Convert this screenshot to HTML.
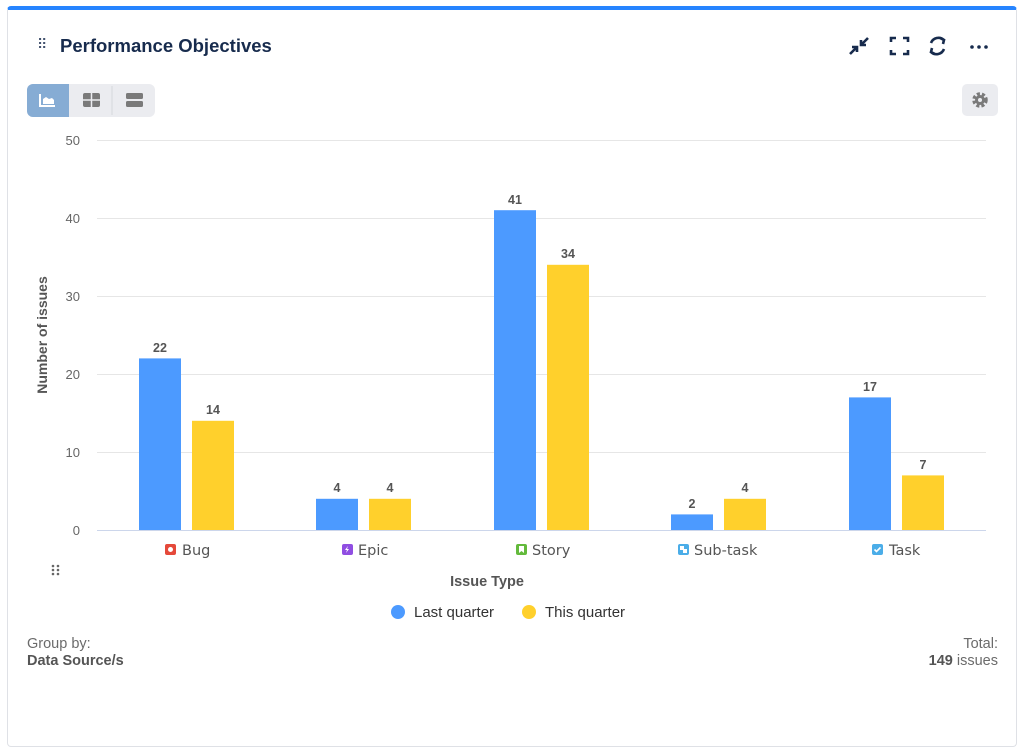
<!DOCTYPE html>
<html><head><meta charset="utf-8"><style>
body{margin:0;width:1024px;height:753px;background:#fff;font-family:"Liberation Sans",sans-serif;position:relative;overflow:hidden}
.card{position:absolute;left:7px;top:6px;width:1010px;height:741px;border:1px solid #dfe1e6;border-top:4px solid #2684ff;border-radius:4px;box-sizing:border-box}
.t{position:absolute;white-space:nowrap}
</style></head><body>
<div class="card"></div>
<div class="t" style="left:37px;top:36px;color:#42526e;font-size:14px;letter-spacing:1px">⠿</div>
<div class="t" style="left:60px;top:35px;color:#172b4d;font-family:'Liberation Sans',sans-serif;font-size:18.5px;font-weight:bold">Performance Objectives</div>
<svg style="position:absolute;left:0;top:0" width="1024" height="753">
<g stroke="#172b4d" stroke-width="2.6" fill="none">
<path d="M850 54l7-7M852 47h5v5M868 38l-7 7M861 40v5h5"/>
<path d="M891 42v-4h5M903 38h5v4M908 50v4h-5M896 54h-5v-4"/>
<path d="M944 40a8 8 0 0 0-13 3M931 52a8 8 0 0 0 13-3M940 38l4 2-1 4M935 54l-4-2 1-4"/>
</g>
<circle cx="972" cy="47" r="1.8" fill="#172b4d"/><circle cx="979" cy="47" r="1.8" fill="#172b4d"/><circle cx="986" cy="47" r="1.8" fill="#172b4d"/>
<rect x="27" y="84" width="128" height="33" rx="6" fill="#ebecf0"/>
<path d="M33 84h36v33h-36a6 6 0 0 1-6-6v-21a6 6 0 0 1 6-6z" fill="#86acd4"/>
<line x1="112" y1="86" x2="112" y2="115" stroke="#d5d7db"/>
<path d="M40 94v12h15" stroke="#fff" stroke-width="2" fill="none"/><path d="M43 104v-5l3-2 3 2 3-1 2 2v4z" fill="#fff"/>
<rect x="83" y="93" width="17" height="14" rx="2" fill="#7a7a7a"/><path d="M83 100h17M91.5 93v14" stroke="#ebecf0" stroke-width="1.5"/>
<rect x="126" y="93" width="17" height="6" rx="1.5" fill="#7a7a7a"/><rect x="126" y="101" width="17" height="6" rx="1.5" fill="#7a7a7a"/>
<rect x="962" y="84" width="36" height="32" rx="5" fill="#ebecf0"/>
<circle cx="980" cy="100" r="6" fill="none" stroke="#7a7a7a" stroke-width="3.5" stroke-dasharray="3 2"/><circle cx="980" cy="100" r="5" fill="#7a7a7a"/><circle cx="980" cy="100" r="2" fill="#ebecf0"/>
<g stroke="#e6e6e6" stroke-width="1">
<line x1="97" y1="140.5" x2="986" y2="140.5"/><line x1="97" y1="218.5" x2="986" y2="218.5"/><line x1="97" y1="296.5" x2="986" y2="296.5"/><line x1="97" y1="374.5" x2="986" y2="374.5"/><line x1="97" y1="452.5" x2="986" y2="452.5"/>
</g>
<line x1="97" y1="530.5" x2="986" y2="530.5" stroke="#ccd6eb"/>
<g font-size="13" fill="#666" text-anchor="end" font-family="Liberation Sans">
<text x="80" y="145">50</text><text x="80" y="223">40</text><text x="80" y="301">30</text><text x="80" y="379">20</text><text x="80" y="457">10</text><text x="80" y="535">0</text>
</g>
<text transform="translate(47 335) rotate(-90)" text-anchor="middle" font-size="14" font-weight="bold" fill="#555">Number of issues</text>
<g fill="#4c9aff">
<rect x="139" y="358.4" width="42" height="171.6"/><rect x="316" y="498.8" width="42" height="31.2"/><rect x="494" y="210.2" width="42" height="319.8"/><rect x="671" y="514.4" width="42" height="15.6"/><rect x="849" y="397.4" width="42" height="132.6"/>
</g>
<g fill="#ffd02c">
<rect x="192" y="420.8" width="42" height="109.2"/><rect x="369" y="498.8" width="42" height="31.2"/><rect x="547" y="264.8" width="42" height="265.2"/><rect x="724" y="498.8" width="42" height="31.2"/><rect x="902" y="475.4" width="42" height="54.6"/>
</g>
<g font-size="12.5" font-weight="bold" fill="#555" text-anchor="middle">
<text x="160" y="352">22</text><text x="213" y="414">14</text><text x="337" y="492">4</text><text x="390" y="492">4</text><text x="515" y="204">41</text><text x="568" y="258">34</text><text x="692" y="508">2</text><text x="745" y="492">4</text><text x="870" y="391">17</text><text x="923" y="469">7</text>
</g>
<rect x="165" y="544" width="11" height="11" rx="2" fill="#e5493a"/><circle cx="170.5" cy="549.5" r="2.5" fill="#fff"/>
<rect x="342" y="544" width="11" height="11" rx="2" fill="#904ee2"/><path d="M348 546l-3 4h2l-1 3 3-4h-2z" fill="#fff"/>
<rect x="516" y="544" width="11" height="11" rx="2" fill="#63ba3c"/><path d="M519 546h5v7l-2.5-2-2.5 2z" fill="#fff"/>
<rect x="678" y="544" width="11" height="11" rx="2" fill="#4bade8"/><rect x="680" y="546" width="4" height="4" fill="#fff"/><rect x="683" y="549" width="4" height="4" fill="#fff"/>
<rect x="872" y="544" width="11" height="11" rx="2" fill="#4bade8"/><path d="M874.5 549.5l2 2 4-4" stroke="#fff" stroke-width="1.6" fill="none"/>
<g font-size="14.5" fill="#555" font-family="DejaVu Sans,sans-serif">
<text x="182" y="555">Bug</text><text x="358" y="555">Epic</text><text x="532" y="555">Story</text><text x="694" y="555">Sub-task</text><text x="889" y="555">Task</text>
</g>
<text x="487" y="586" text-anchor="middle" font-size="14.5" font-weight="bold" fill="#555">Issue Type</text>
<g fill="#666"><circle cx="53" cy="566" r="1.3"/><circle cx="58" cy="566" r="1.3"/><circle cx="53" cy="570" r="1.3"/><circle cx="58" cy="570" r="1.3"/><circle cx="53" cy="574" r="1.3"/><circle cx="58" cy="574" r="1.3"/></g>
<circle cx="398" cy="612" r="7" fill="#4c9aff"/><text x="414" y="617" font-size="15" fill="#333">Last quarter</text>
<circle cx="529" cy="612" r="7" fill="#ffd02c"/><text x="545" y="617" font-size="15" fill="#333">This quarter</text>
<text x="27" y="648" font-size="14.5" fill="#6b6b6b">Group by:</text>
<text x="27" y="665" font-size="14.5" font-weight="bold" fill="#555">Data Source/s</text>
<text x="998" y="648" font-size="14.5" fill="#6b6b6b" text-anchor="end">Total:</text>
<text x="998" y="665" font-size="14.5" fill="#6b6b6b" text-anchor="end"><tspan font-weight="bold" fill="#555">149</tspan> issues</text>
</svg>
</body></html>
